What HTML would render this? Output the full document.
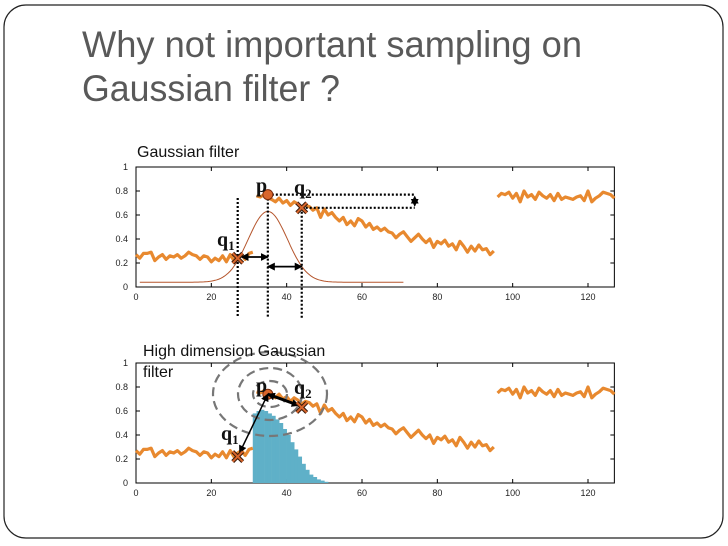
<!DOCTYPE html>
<html><head><meta charset="utf-8"><style>
html,body{margin:0;padding:0;background:#fff;}
svg{display:block;font-family:"Liberation Sans",sans-serif;}
</style></head><body>
<svg id="slide" width="728" height="546" viewBox="0 0 728 546">
<rect x="4" y="5" width="719" height="533" rx="22" fill="#fff" stroke="#222" stroke-width="1.2"/>
<text x="82" y="57" font-size="37" fill="#595959" textLength="500" lengthAdjust="spacingAndGlyphs">Why not important sampling on</text>
<text x="82" y="101" font-size="37" fill="#595959" textLength="258" lengthAdjust="spacingAndGlyphs">Gaussian filter ?</text>
<g id="topChart"></g>
<g id="botChart"></g>
</svg>
<script>
const signal = [0.27,0.24,0.28,0.28,0.29,0.22,0.25,0.27,0.23,0.26,0.25,0.27,0.24,0.26,0.29,0.27,0.26,0.23,0.26,0.25,0.21,0.24,0.22,0.26,0.21,0.27,0.22,0.25,0.27,0.23,0.28,0.29,
0.76,0.75,0.77,0.74,0.73,0.71,0.74,0.70,0.72,0.68,0.71,0.69,0.66,0.68,0.67,0.64,0.66,0.58,0.65,0.60,0.62,0.58,0.55,0.58,0.52,0.55,0.51,0.57,0.55,0.50,0.53,0.48,0.50,0.47,0.49,0.46,0.45,0.41,0.44,0.46,0.42,0.38,0.41,0.44,0.40,0.37,0.40,0.33,0.38,0.36,0.39,0.34,0.36,0.31,0.38,0.34,0.29,0.34,0.30,0.35,0.31,0.32,0.27,0.30,
0.75,0.78,0.77,0.79,0.74,0.78,0.71,0.80,0.75,0.77,0.73,0.79,0.76,0.74,0.77,0.72,0.78,0.73,0.75,0.74,0.73,0.75,0.76,0.72,0.80,0.71,0.74,0.76,0.79,0.78,0.77,0.74];
const segmentStarts = [0,32,96];
const histX = [31,32,33,34,35,36,37,38,39,40,41,42,43,44,45,46,47,48,49,50];
const histY = [0.58,0.60,0.61,0.60,0.58,0.56,0.53,0.50,0.45,0.40,0.34,0.28,0.22,0.16,0.11,0.07,0.05,0.03,0.02,0.01];
const gaussParams = [35,5.2,0.59,0.04]; // mean, sigma, amplitude, baseline
const gaussRange = [1,71];
const xTicks = [0,20,40,60,80,100,120];
const yTicks = [0,0.2,0.4,0.6,0.8,1];
const yTickLabels = ["0","0.2","0.4","0.6","0.8","1"];
const pts = {p:[35,0.77], q1:[27,0.24], q2:[44,0.66]};
const pts2 = {p:[35,0.74], q1:[27,0.22], q2:[44,0.63]};

const NS="http://www.w3.org/2000/svg";
function el(parent,tag,attrs){const e=document.createElementNS(NS,tag);for(const k in attrs)e.setAttribute(k,attrs[k]);parent.appendChild(e);return e;}
function makeChart(g,y0px){
  const X=v=>136+v*(452/120), Y=v=>y0px-v*120;
  const r=el(g,'rect',{x:X(0),y:Y(1),width:X(127)-X(0),height:120,fill:'none',stroke:'#000','stroke-width':1});
  
  
  xTicks.forEach(t=>{
    el(g,'line',{x1:X(t),x2:X(t),y1:Y(0),y2:Y(0)-4,stroke:'#000'});
    el(g,'line',{x1:X(t),x2:X(t),y1:Y(1),y2:Y(1)+4,stroke:'#000'});
    const tx=el(g,'text',{x:X(t),y:Y(0)+13,'font-size':9,'text-anchor':'middle',fill:'#222'});tx.textContent=t;
    
    
  });
  yTicks.forEach((t,i)=>{
    el(g,'line',{x1:X(0),x2:X(0)+4,y1:Y(t),y2:Y(t),stroke:'#000'});
    el(g,'line',{x1:X(127),x2:X(127)-4,y1:Y(t),y2:Y(t),stroke:'#000'});
    const tx=el(g,'text',{x:X(0)-8,y:Y(t)+3,'font-size':9,'text-anchor':'end',fill:'#222'});tx.textContent=yTickLabels[i];
    
    
  });
  return {X,Y};
}
function drawSignal(g,X,Y){
  for(let s=0;s<segmentStarts.length;s++){
    const a=segmentStarts[s], b=(segmentStarts[s+1]||signal.length);
    let d='';for(let i=a;i<b;i++)d+=(i===a?'M':'L')+X(i).toFixed(1)+','+Y(signal[i]).toFixed(1);
    const pth=el(g,'path',{d,fill:'none',stroke:'#e8892f','stroke-width':3.2,'stroke-linejoin':'round'});
    
    
  }
}
function cross(g,x,y,name){
  const c=el(g,'g',{});
  
  
  el(c,'path',{d:`M${x-5},${y-5}L${x+5},${y+5}M${x+5},${y-5}L${x-5},${y+5}`,stroke:'#3a1a0a','stroke-width':4});
  el(c,'path',{d:`M${x-5},${y-5}L${x+5},${y+5}M${x+5},${y-5}L${x-5},${y+5}`,stroke:'#d9662c','stroke-width':2});
}
function label(g,x,y,t,sub,name){
  const tx=el(g,'text',{x,y,'font-size':20,'font-weight':'bold','font-family':'Liberation Serif, serif',fill:'#111'});
  tx.textContent=t;
  if(sub){const ts=el(tx,'tspan',{'font-size':13,dy:4});ts.textContent=sub;}
  
  
}
const defs=el(document.getElementById('slide'),'defs',{});
const mk=el(defs,'marker',{id:'ah',markerWidth:8,markerHeight:8,refX:7,refY:4,orient:'auto-start-reverse',markerUnits:'userSpaceOnUse'});
el(mk,'path',{d:'M0,0L8,4L0,8z',fill:'#000'});

// TOP
const gTop=document.getElementById('topChart');
const t=makeChart(gTop,287);
const tt=el(gTop,'text',{x:137,y:157,'font-size':16,fill:'#111'});tt.textContent='Gaussian filter';


drawSignal(gTop,t.X,t.Y);
let gd='';
for(let x=gaussRange[0];x<=gaussRange[1];x+=0.5){const v=gaussParams[3]+gaussParams[2]*Math.exp(-((x-gaussParams[0])**2)/(2*gaussParams[1]**2));gd+=(gd?'L':'M')+t.X(x).toFixed(1)+','+t.Y(v).toFixed(1);}
const gc=el(gTop,'path',{d:gd,fill:'none',stroke:'#b5552c','stroke-width':1});


[[27,198],[35,t.Y(0.77)],[44,t.Y(0.66)]].forEach(a=>{el(gTop,'line',{x1:t.X(a[0]),x2:t.X(a[0]),y1:a[1],y2:318,stroke:'#000','stroke-width':2.2,'stroke-dasharray':'2,2'});});
el(gTop,'line',{x1:t.X(35),x2:t.X(74),y1:t.Y(0.77),y2:t.Y(0.77),stroke:'#000','stroke-width':2.2,'stroke-dasharray':'2,2'});
el(gTop,'line',{x1:t.X(44),x2:t.X(74),y1:t.Y(0.66),y2:t.Y(0.66),stroke:'#000','stroke-width':2.2,'stroke-dasharray':'2,2'});
el(gTop,'line',{x1:t.X(74),x2:t.X(74),y1:t.Y(0.77)+2,y2:t.Y(0.66)-2,stroke:'#000','stroke-width':1.5,'marker-start':'url(#ah)','marker-end':'url(#ah)'});
el(gTop,'line',{x1:t.X(28),x2:t.X(35),y1:t.Y(0.25),y2:t.Y(0.25),stroke:'#000','stroke-width':1.8,'marker-start':'url(#ah)','marker-end':'url(#ah)'});
el(gTop,'line',{x1:t.X(35),x2:t.X(44),y1:t.Y(0.17),y2:t.Y(0.17),stroke:'#000','stroke-width':1.8,'marker-start':'url(#ah)','marker-end':'url(#ah)'});
const pc=el(gTop,'circle',{cx:t.X(pts.p[0]),cy:t.Y(pts.p[1]),r:5,fill:'#d9662c',stroke:'#7a2a0a'});


cross(gTop,t.X(pts.q2[0]),t.Y(pts.q2[1]),'point-q2');
cross(gTop,t.X(pts.q1[0]),t.Y(pts.q1[1]),'point-q1');
label(gTop,256,192,'p','','label-p');
label(gTop,294,194,'q','2','label-q2');
label(gTop,217,246,'q','1','label-q1');

// BOTTOM
const gBot=document.getElementById('botChart');
const b=makeChart(gBot,483);
histX.forEach((x,i)=>{const r=el(gBot,'rect',{x:b.X(x),y:b.Y(histY[i]),width:b.X(1)-b.X(0)+0.3,height:histY[i]*120,fill:'#5fb0c8'});
  
  });
drawSignal(gBot,b.X,b.Y);
const cx=270,cy=394;
[[57,42],[32,26],[17,13]].forEach(r=>{const e=el(gBot,'ellipse',{cx,cy,rx:r[0],ry:r[1],fill:'none',stroke:'#777','stroke-width':2.2,'stroke-dasharray':'9,5'});
  
  });
const b1=el(gBot,'text',{x:143,y:356,'font-size':16,fill:'#111'});b1.textContent='High dimension Gaussian';


const b2=el(gBot,'text',{x:143,y:377,'font-size':16,fill:'#111'});b2.textContent='filter';


el(gBot,'circle',{cx:b.X(pts2.p[0]),cy:b.Y(pts2.p[1]),r:5,fill:'#d9662c',stroke:'#7a2a0a'});
el(gBot,'line',{x1:b.X(pts2.p[0]),y1:b.Y(pts2.p[1]),x2:b.X(pts2.q1[0])+2,y2:b.Y(pts2.q1[1])-4,stroke:'#000','stroke-width':1.5,'marker-start':'url(#ah)','marker-end':'url(#ah)'});
el(gBot,'line',{x1:b.X(pts2.p[0]),y1:b.Y(pts2.p[1]),x2:b.X(pts2.q2[0])-3,y2:b.Y(pts2.q2[1])-2,stroke:'#000','stroke-width':3,'marker-start':'url(#ah)','marker-end':'url(#ah)'});
cross(gBot,b.X(pts2.q2[0]),b.Y(pts2.q2[1]),'point-q2-hd');
cross(gBot,b.X(pts2.q1[0]),b.Y(pts2.q1[1]),'point-q1-hd');
label(gBot,256,392,'p','','label-p-hd');
label(gBot,294,394,'q','2','label-q2-hd');
label(gBot,221,440,'q','1','label-q1-hd');
</script>
</body></html>
